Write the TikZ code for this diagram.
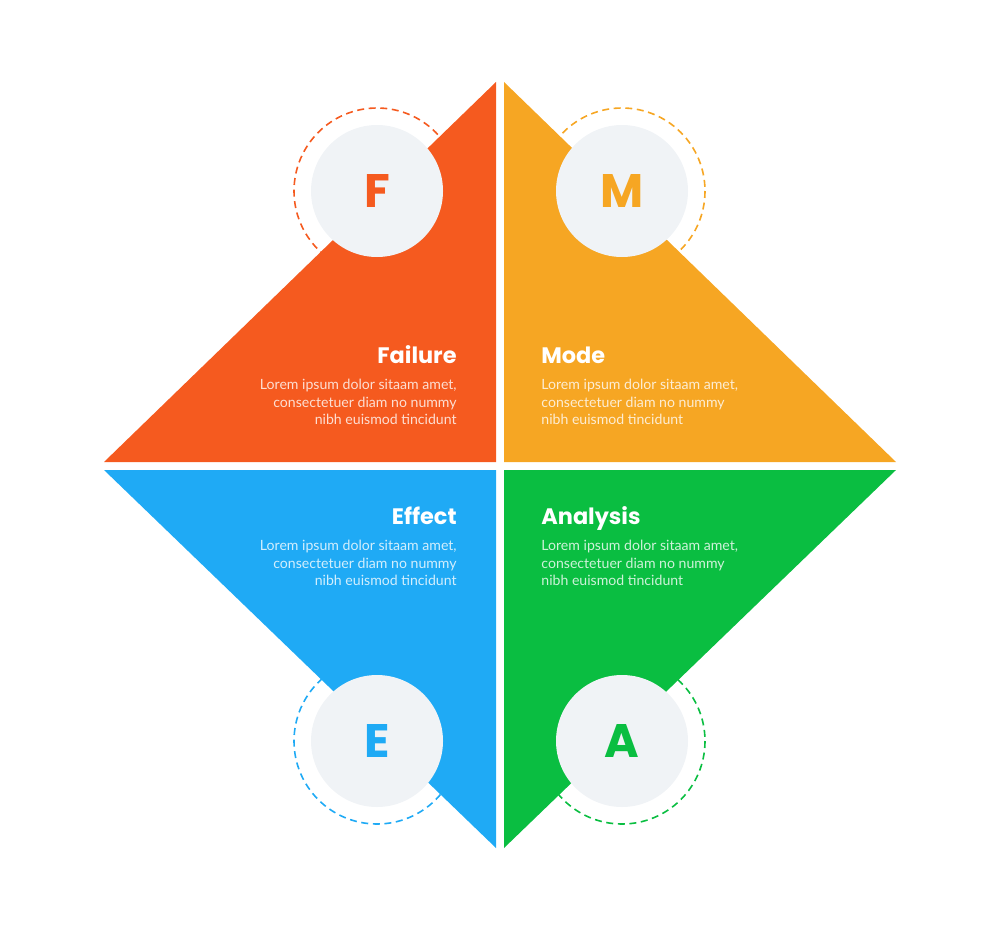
\documentclass[tikz,border=0pt]{standalone}
\usepackage{fontspec}
\setmainfont{Lato}
\newfontfamily\headfont{Poppins}
\usepackage{tikz}

\definecolor{cfail}{RGB}{245,90,31}
\definecolor{cmode}{RGB}{246,166,35}
\definecolor{ceff}{RGB}{31,170,245}
\definecolor{cana}{RGB}{10,190,65}
\definecolor{badgegray}{RGB}{240,243,246}

\tikzset{
  ring/.style={line width=0.8pt, dash pattern=on 3.5pt off 2.3pt},
  letter/.style={font=\headfont\bfseries\fontsize{23.5}{24}\selectfont, inner sep=0pt},
  headline/.style={font=\headfont\bfseries\fontsize{11.2}{12}\selectfont, text=white, inner sep=0pt},
  blurb/.style={font=\fontsize{7.05}{8.65}\selectfont, text=white, text opacity=0.8, inner sep=0pt}
}

\begin{document}
\begin{tikzpicture}[x=0.5pt,y=-0.5pt]
\useasboundingbox (0,0) rectangle (1000,931);
\coordinate (ft) at (496,82);
\coordinate (fl) at (104,462);
\coordinate (fc) at (496,462);
\coordinate (mt) at (504,82);
\coordinate (mr) at (896,462);
\coordinate (mc) at (504,462);
\coordinate (el) at (104,470);
\coordinate (ec) at (496,470);
\coordinate (eb) at (496,848);
\coordinate (ar) at (896,470);
\coordinate (ac) at (504,470);
\coordinate (ab) at (504,848);
% dashed rings behind the quarters
\foreach \n/\c/\px/\py in {F/cfail/377/191, M/cmode/622/191, E/ceff/377/741, A/cana/622/741}
{
\draw[ring,\c] (\px,\py) circle[radius=83];
}
\fill[cfail] (ft) -- (fl) -- (fc) -- cycle;
\fill[cmode] (mt) -- (mc) -- (mr) -- cycle;
\fill[ceff] (el) -- (ec) -- (eb) -- cycle;
\fill[cana] (ac) -- (ar) -- (ab) -- cycle;
% badges
\foreach \n/\c/\px/\py in {F/cfail/377/191, M/cmode/622/191, E/ceff/377/741, A/cana/622/741}
{
\fill[badgegray] (\px,\py) circle[radius=66];
\node[letter,text=\c] (\n) at (\px,\py) {\n};
}
% texts
\node[headline,anchor=base east] (failure) at (457,363) {Failure};
\node[headline,anchor=base west] (mode) at (541,363) {Mode};
\node[headline,anchor=base east] (effect) at (457,524) {Effect};
\node[headline,anchor=base west] (analysis) at (541,524) {Analysis};
\node[blurb,align=right,anchor=north east] (failuretxt) at (457,379) {Lorem ipsum dolor sitaam amet,\\consectetuer diam no nummy\\nibh euismod tincidunt};
\node[blurb,align=left,anchor=north west] (modetxt) at (541,379) {Lorem ipsum dolor sitaam amet,\\consectetuer diam no nummy\\nibh euismod tincidunt};
\node[blurb,align=right,anchor=north east] (effecttxt) at (457,540) {Lorem ipsum dolor sitaam amet,\\consectetuer diam no nummy\\nibh euismod tincidunt};
\node[blurb,align=left,anchor=north west] (analysistxt) at (541,540) {Lorem ipsum dolor sitaam amet,\\consectetuer diam no nummy\\nibh euismod tincidunt};
\end{tikzpicture}
\end{document}
